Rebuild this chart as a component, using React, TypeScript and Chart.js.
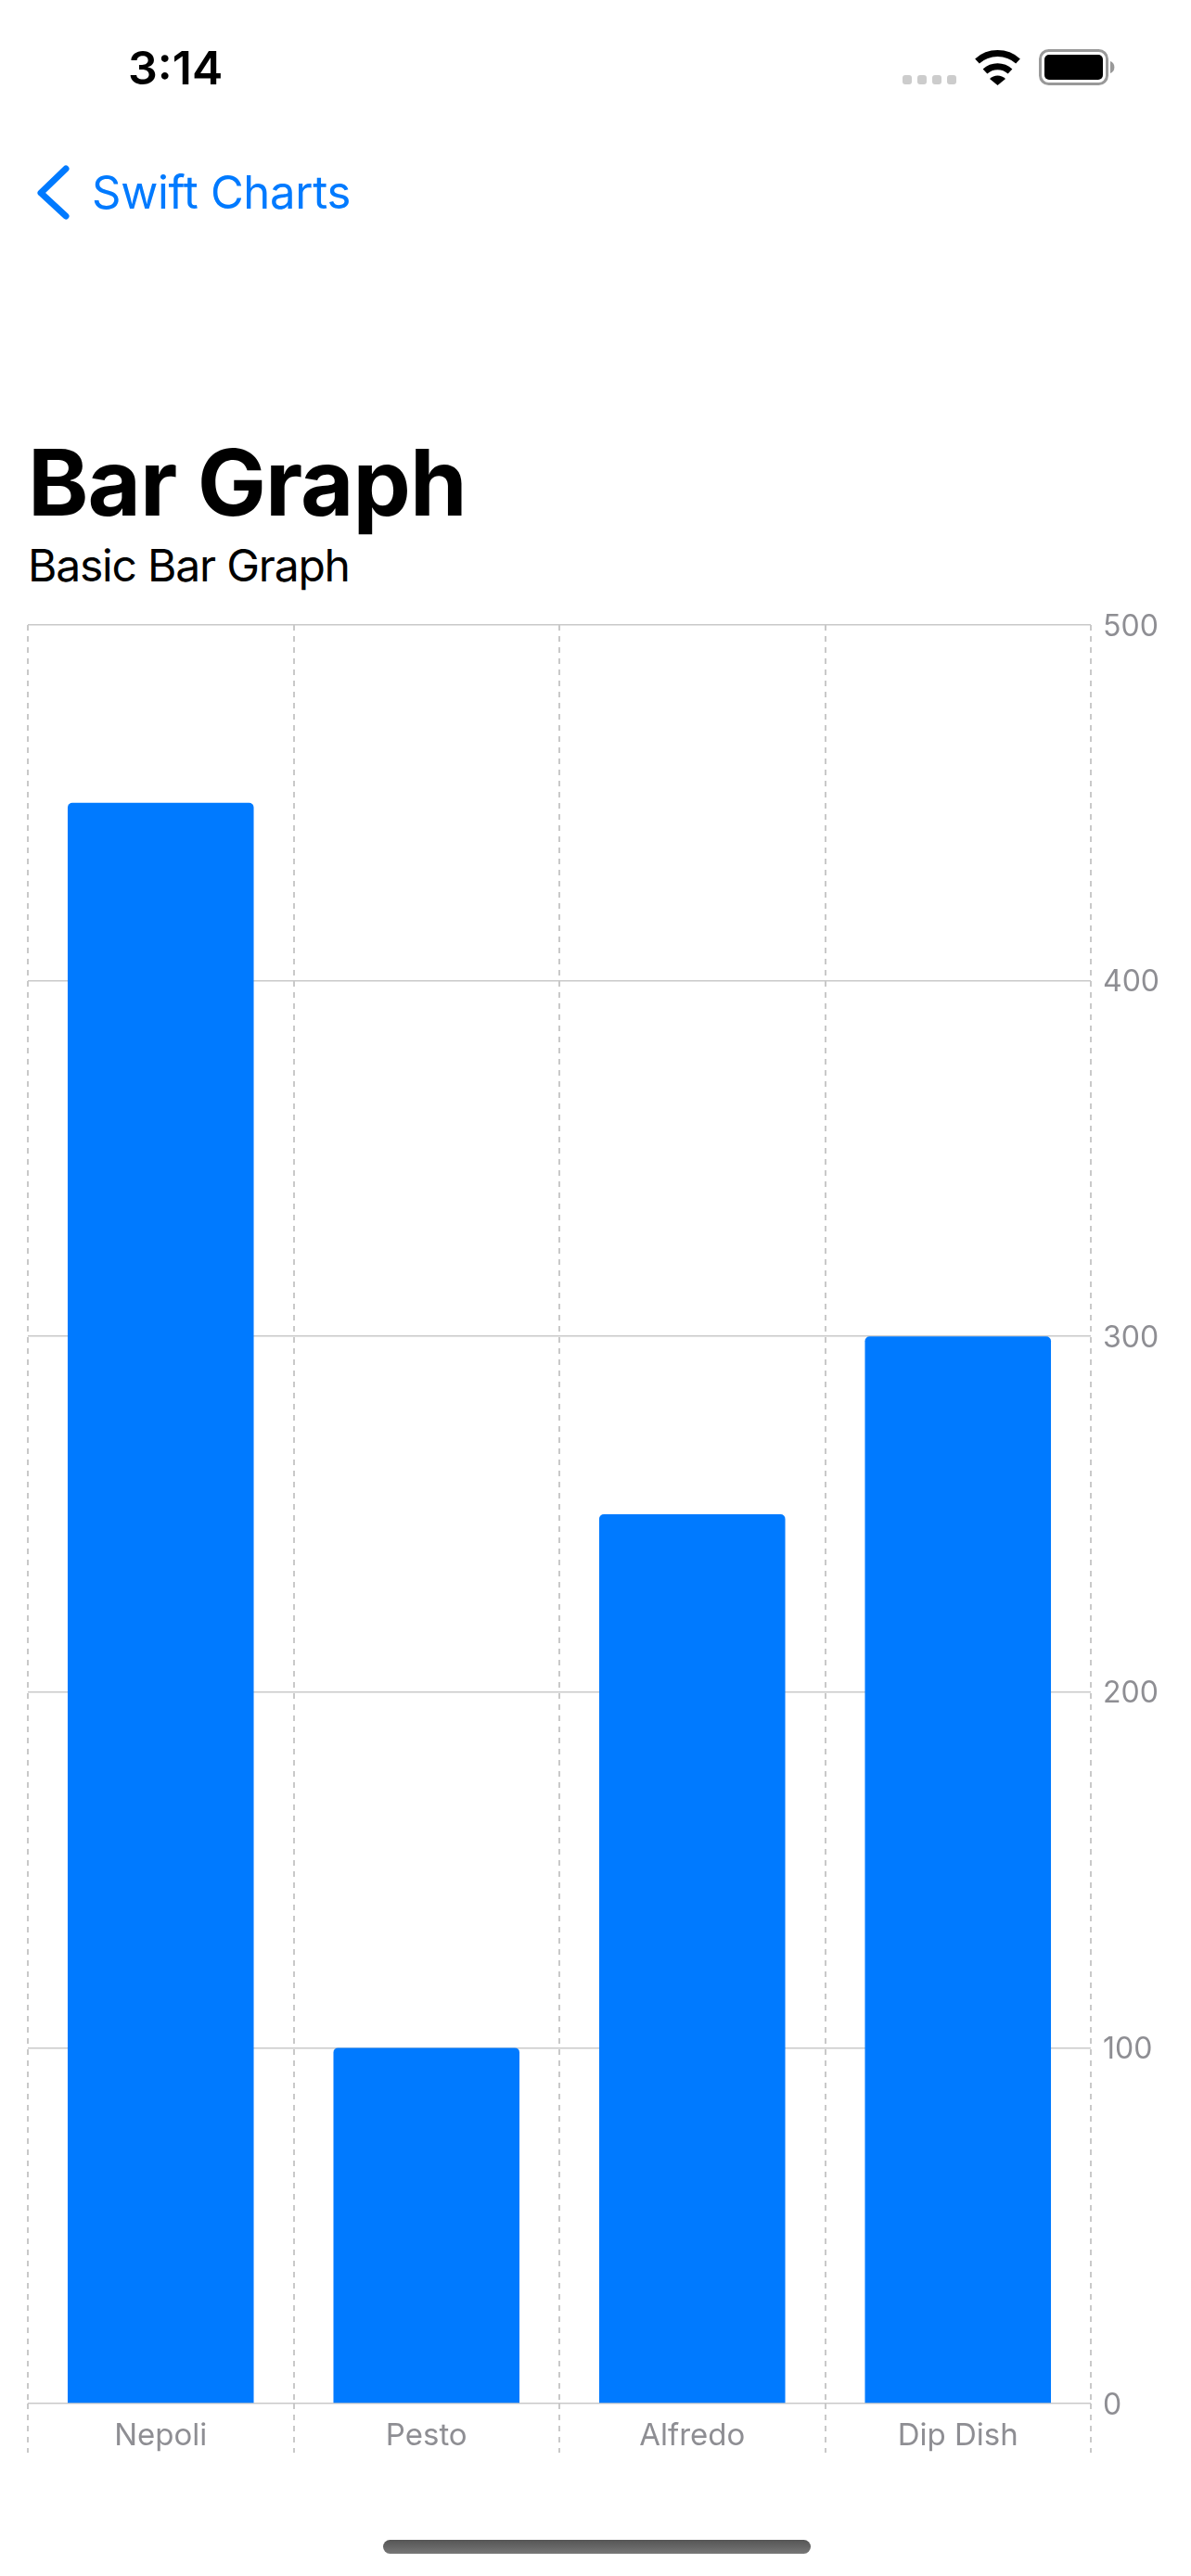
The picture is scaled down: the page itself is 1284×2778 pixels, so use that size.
import { useEffect, useRef } from 'react'
import { Chart, registerables } from 'chart.js'

Chart.register(...registerables)

const categories = ['Nepoli', 'Pesto', 'Alfredo', 'Dip Dish']
const sales = [450, 100, 250, 300]
const yTicks = [0, 100, 200, 300, 400, 500]

const BLUE = '#007aff'
const GRID = '#c9c9c9'
const LABEL = '#8e8e93'
const FONT = 'Inter, "Noto Sans", sans-serif'

function text(left: number, top: number, size: number, weight: number, color: string, spacing = 0): React.CSSProperties {
  return {
    position: 'absolute',
    left,
    top,
    fontFamily: FONT,
    fontSize: size,
    fontWeight: weight,
    color,
    letterSpacing: spacing,
    lineHeight: 1,
    whiteSpace: 'nowrap',
  }
}

function BarChart() {
  const canvasRef = useRef<HTMLCanvasElement>(null)

  useEffect(() => {
    if (!canvasRef.current) return
    const chart = new Chart(canvasRef.current, {
      type: 'bar',
      data: {
        labels: categories,
        datasets: [
          {
            data: sales,
            backgroundColor: BLUE,
            barPercentage: 0.7,
            categoryPercentage: 1,
            borderRadius: { topLeft: 5, topRight: 5, bottomLeft: 0, bottomRight: 0 },
            borderSkipped: false,
          },
        ],
      },
      options: {
        animation: false,
        responsive: false,
        devicePixelRatio: 1,
        layout: { padding: { left: 30, top: 34, right: 0, bottom: 0 } },
        plugins: { legend: { display: false }, tooltip: { enabled: false } },
        scales: {
          x: {
            afterFit: (scale: any) => {
              scale.height = 69
            },
            grid: {
              color: GRID,
              lineWidth: 2,
              tickColor: GRID,
              tickWidth: 2,
              tickLength: 53,
              tickBorderDash: [6, 6],
            },
            border: { display: false, dash: [6, 6] },
            ticks: {
              color: LABEL,
              padding: -38,
              font: { family: FONT, size: 33 },
            },
          },
          y: {
            position: 'right',
            min: 0,
            max: 500,
            afterBuildTicks: (scale: any) => {
              scale.ticks = yTicks.map((value) => ({ value }))
            },
            afterFit: (scale: any) => {
              scale.width = 108
            },
            grid: { color: GRID, lineWidth: 1.5, drawTicks: false },
            border: { display: false },
            ticks: {
              color: LABEL,
              padding: 13,
              labelOffset: 2,
              font: { family: FONT, size: 32 },
            },
          },
        },
      },
    })
    return () => chart.destroy()
  }, [])

  return <canvas ref={canvasRef} width={1284} height={2021} style={{ position: 'absolute', left: 0, top: 640, display: 'block' }} />
}

function StatusIcons() {
  return (
    <svg width={1284} height={120} style={{ position: 'absolute', left: 0, top: 0 }}>
      <g fill="#cccccc">
        <rect x={973} y={81} width={10} height={10} rx={3} />
        <rect x={989} y={81} width={10} height={10} rx={3} />
        <rect x={1005} y={81} width={10} height={10} rx={3} />
        <rect x={1021} y={81} width={10} height={10} rx={3} />
      </g>
      <g fill="none" stroke="#000" strokeWidth={7}>
        <path d="M1053.5 66 A33 33 0 0 1 1097.5 66" />
        <path d="M1062 77 A20 20 0 0 1 1089 77" />
      </g>
      <path d="M1067 85 A12 12 0 0 1 1084 85 L1075.5 92 Z" fill="#000" />
      <rect x={1121.5} y={54.5} width={72} height={36} rx={9} fill="none" stroke="#999" strokeWidth={3} />
      <rect x={1126} y={59} width={63} height={27} rx={5} fill="#000" />
      <path d="M1197 66 A7 7 0 0 1 1197 79 Z" fill="#999" />
    </svg>
  )
}

export default function App() {
  return (
    <div style={{ position: 'absolute', left: 0, top: 0, width: 1284, height: 2778, background: '#fff', overflow: 'hidden' }}>
      <StatusIcons />
      <div style={text(138, 48, 50, 600, '#000')}>3:14</div>
      <svg width={100} height={80} style={{ position: 'absolute', left: 20, top: 170 }}>
        <polyline points="51,12 24,38 51,63" fill="none" stroke={BLUE} strokeWidth={7} strokeLinecap="round" strokeLinejoin="round" />
      </svg>
      <div style={text(99, 183, 49, 400, BLUE, -0.3)}>Swift Charts</div>
      <div style={text(30, 471, 99, 700, '#000', -1)}>Bar Graph</div>
      <div style={text(30, 586, 48, 400, '#000', -1.2)}>Basic Bar Graph</div>
      <BarChart />
      <div
        style={{
          position: 'absolute',
          left: 413,
          top: 2739,
          width: 461,
          height: 15,
          borderRadius: 8,
          background: 'linear-gradient(#555555, #777777)',
        }}
      />
    </div>
  )
}
